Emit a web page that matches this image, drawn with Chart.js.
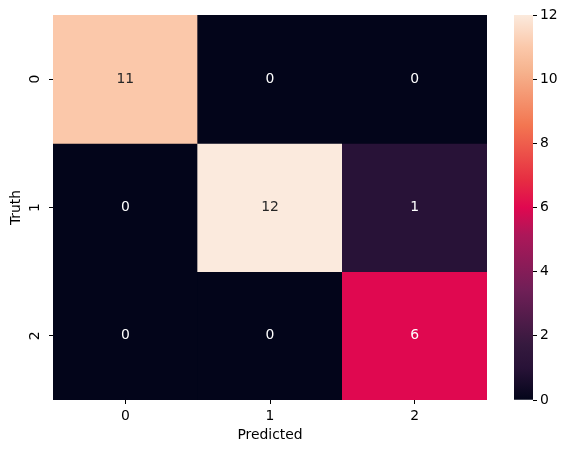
<!DOCTYPE html>
<html><head><meta charset="utf-8">
<script src="https://cdn.jsdelivr.net/npm/chart.js@4"></script>
<style>
html,body{margin:0;padding:0;background:#fff}
#wrap{position:relative;width:571px;height:453px}
canvas{position:absolute;left:0;top:0}
</style></head><body>
<div id="wrap"><canvas id="main" width="571" height="453"></canvas><canvas id="cbar" width="571" height="453"></canvas></div>
<script>
// ---- data ----
const predictedLabels = ['0', '1', '2'];
const truthLabels = ['0', '1', '2'];
const row0 = [11, 0, 0];
const row1 = [0, 12, 1];
const row2 = [0, 0, 6];
const matrixRows = [row0, row1, row2];
const colorbarTicks = [0, 2, 4, 6, 8, 10, 12];
const vmin = 0, vmax = 12;
const xTitle = 'Predicted', yTitle = 'Truth';

// ---- styling ----
const FONT = "'DejaVu Sans', sans-serif";
const FS = 13.9;
const rocketStops = [
  [0.000, [3, 5, 26]],
  [0.083, [40, 18, 55]],
  [0.143, [53, 25, 62]],
  [0.286, [112, 31, 87]],
  [0.429, [173, 23, 89]],
  [0.500, [224, 8, 80]],
  [0.571, [230, 45, 66]],
  [0.714, [243, 118, 81]],
  [0.857, [246, 180, 143]],
  [0.917, [251, 200, 170]],
  [1.000, [251, 234, 221]]
];
function rocketRGB(t) {
  t = Math.max(0, Math.min(1, t));
  for (let i = 1; i < rocketStops.length; i++) {
    const [t1, c1] = rocketStops[i];
    const [t0, c0] = rocketStops[i - 1];
    if (t <= t1) {
      const f = (t - t0) / (t1 - t0);
      return c0.map((c, k) => Math.round(c + (c1[k] - c) * f));
    }
  }
  return rocketStops[rocketStops.length - 1][1];
}
const rgbStr = c => `rgb(${c[0]},${c[1]},${c[2]})`;
function lum(c) {
  const l = c.map(v => { v /= 255; return v <= 0.03928 ? v / 12.92 : Math.pow((v + 0.055) / 1.055, 2.4); });
  return 0.2126 * l[0] + 0.7152 * l[1] + 0.0722 * l[2];
}
const norm = v => (v - vmin) / (vmax - vmin);

Chart.defaults.font.family = FONT;
Chart.defaults.font.size = FS;
Chart.defaults.color = '#000';

const annotPlugin = {
  id: 'annot',
  afterDatasetsDraw(chart) {
    const ctx = chart.ctx;
    ctx.save();
    ctx.font = `${FS}px ${FONT}`;
    ctx.textAlign = 'center';
    ctx.textBaseline = 'middle';
    chart.data.datasets.forEach((ds, r) => {
      chart.getDatasetMeta(r).data.forEach((el, j) => {
        const v = ds.values[j];
        ctx.fillStyle = lum(rocketRGB(norm(v))) > 0.408 ? '#262626' : '#ffffff';
        ctx.fillText(String(v), el.x, (el.y + el.base) / 2);
      });
    });
    ctx.restore();
  }
};

const datasets = matrixRows.map((vals, r) => ({
  label: truthLabels[r],
  data: vals.map(() => [r, r + 1]),
  values: vals,
  backgroundColor: vals.map(v => rgbStr(rocketRGB(norm(v)))),
  borderWidth: 0,
  borderSkipped: false,
  barPercentage: 1,
  categoryPercentage: 1,
  grouped: false
}));

new Chart(document.getElementById('main'), {
  type: 'bar',
  data: { labels: predictedLabels, datasets },
  options: {
    responsive: false,
    animation: false,
    layout: { padding: { left: 0, right: 84, top: 15, bottom: 0 } },
    plugins: { legend: { display: false }, tooltip: { enabled: false } },
    scales: {
      x: {
        type: 'category',
        offset: true,
        grid: { offset: false, drawOnChartArea: false, drawTicks: true, tickLength: 4, color: '#000', lineWidth: 1 },
        border: { display: false },
        ticks: { padding: 4, color: '#000' },
        title: { display: true, text: xTitle, color: '#000', padding: { top: 0, bottom: 9 } },
        afterFit(s) { s.height = 53; s.paddingLeft = 0; s.paddingRight = 0; }
      },
      y: {
        type: 'linear',
        min: 0, max: truthLabels.length,
        reverse: true,
        afterBuildTicks(s) { s.ticks = truthLabels.map((_, i) => ({ value: i + 0.5 })); },
        grid: { drawOnChartArea: false, drawTicks: true, tickLength: 4, color: '#000', lineWidth: 1 },
        border: { display: false },
        ticks: {
          color: '#000', padding: 9, minRotation: 90, maxRotation: 90, crossAlign: 'center',
          callback: (v, i) => truthLabels[i]
        },
        title: { display: true, text: yTitle, color: '#000', padding: { top: 8, bottom: 0 } },
        afterFit(s) { s.width = 53; s.paddingTop = 0; s.paddingBottom = 0; }
      }
    }
  },
  plugins: [annotPlugin]
});

new Chart(document.getElementById('cbar'), {
  type: 'bar',
  data: {
    labels: [''],
    datasets: [{
      data: [[vmin, vmax]],
      backgroundColor(context) {
        const chart = context.chart;
        const a = chart.chartArea;
        if (!a) return 'rgba(0,0,0,0)';
        const g = chart.ctx.createLinearGradient(0, a.bottom, 0, a.top);
        rocketStops.forEach(([t, c]) => g.addColorStop(t, rgbStr(c)));
        return g;
      },
      borderWidth: 0,
      borderSkipped: false,
      barPercentage: 1,
      categoryPercentage: 1
    }]
  },
  options: {
    responsive: false,
    animation: false,
    layout: { padding: { left: 514, right: 0, top: 15, bottom: 53 } },
    plugins: { legend: { display: false }, tooltip: { enabled: false } },
    scales: {
      x: { display: false },
      y: {
        position: 'right',
        min: vmin, max: vmax,
        afterBuildTicks(s) { s.ticks = colorbarTicks.map(v => ({ value: v })); },
        grid: { drawOnChartArea: false, drawTicks: true, tickLength: 4, color: '#000' },
        border: { display: false },
        ticks: { color: '#000', padding: 3 },
        afterFit(s) { s.width = 38; s.paddingTop = 0; s.paddingBottom = 0; }
      }
    }
  }
});
</script>
</body></html>
